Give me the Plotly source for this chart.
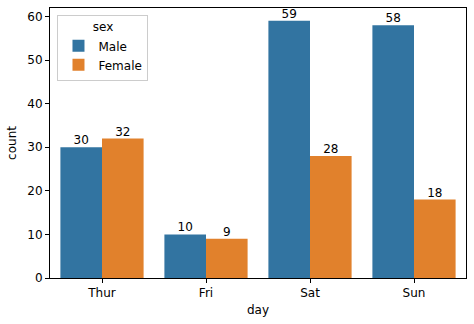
import plotly.graph_objects as go

days = ["Thur", "Fri", "Sat", "Sun"]
male_counts = [30, 10, 59, 58]
female_counts = [32, 9, 28, 18]
y_ticks = [0, 10, 20, 30, 40, 50, 60]

font = "DejaVu Sans"
fig = go.Figure()
for name, vals, color in [("Male", male_counts, "#3274a1"), ("Female", female_counts, "#e1812c")]:
    fig.add_trace(go.Bar(x=days, y=vals, name=name, marker_color=color,
                         marker_line_width=0, offsetgroup=name))
for name, vals in [("Male", male_counts), ("Female", female_counts)]:
    fig.add_trace(go.Scatter(x=days, y=vals, mode="text", text=vals,
                             textposition="top center", offsetgroup=name,
                             textfont=dict(color="black", size=12, family=font),
                             showlegend=False, cliponaxis=False, hoverinfo="skip"))

fig.update_layout(
    width=474, height=324,
    margin=dict(l=50, r=8, t=8, b=46),
    barmode="group", bargap=0.2, bargroupgap=0,
    scattermode="group", scattergap=0.2,
    plot_bgcolor="white", paper_bgcolor="white",
    font=dict(family=font, size=12, color="black"),
    showlegend=True,
    legend=dict(x=0.018, y=0.975, xanchor="left", yanchor="top",
                bgcolor="rgba(255,255,255,0.8)", bordercolor="#cccccc", borderwidth=1,
                title=dict(text="sex", side="top center", font=dict(size=12)),
                font=dict(size=12), tracegroupgap=0, itemsizing="constant"),
    xaxis=dict(title=dict(text="day", standoff=6, font=dict(size=12)), showline=True,
               linecolor="black", linewidth=1, mirror=True, ticks="outside", ticklen=4,
               tickcolor="black", showgrid=False, zeroline=False),
    yaxis=dict(title=dict(text="count", standoff=8, font=dict(size=12)), range=[0, 61.95],
               tickvals=y_ticks, showline=True, linecolor="black", linewidth=1, mirror=True,
               ticks="outside", ticklen=4, tickcolor="black", showgrid=False,
               zeroline=False),
)
fig.write_html("out.html")
